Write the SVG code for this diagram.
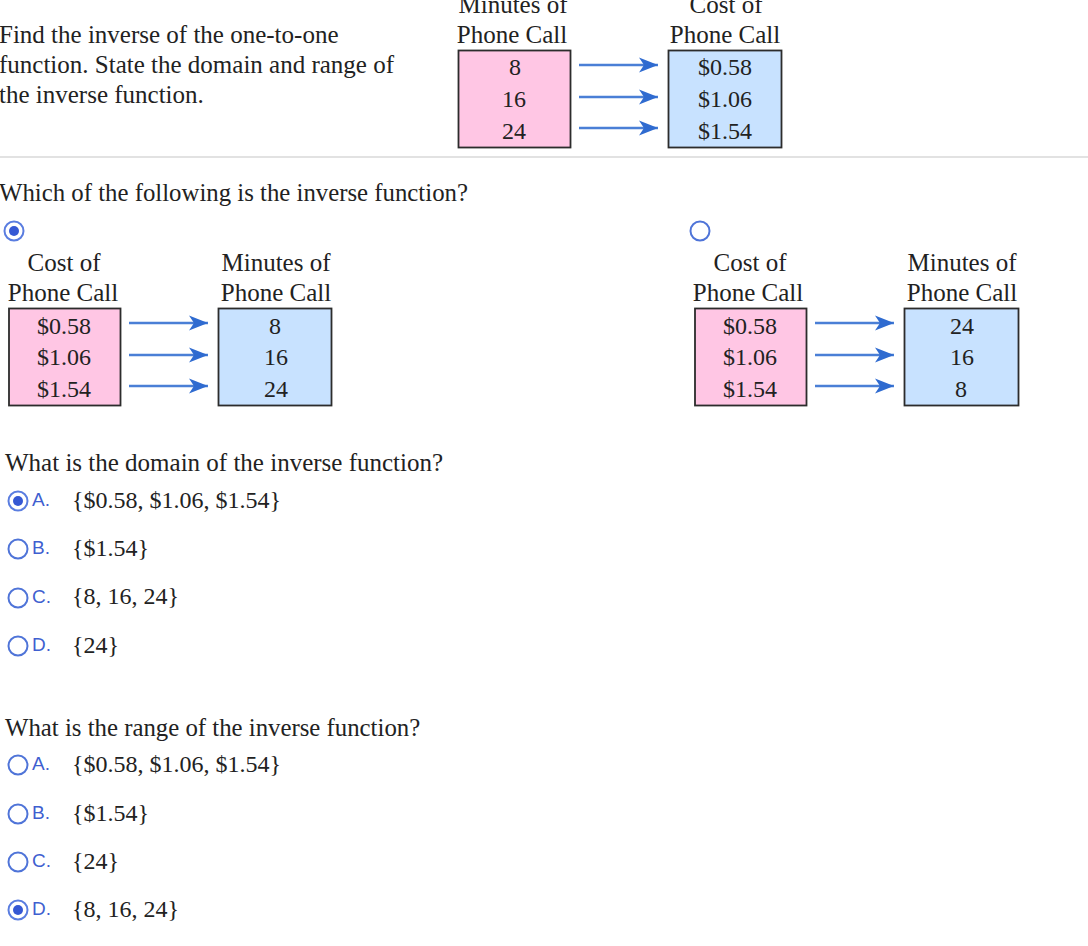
<svg xmlns="http://www.w3.org/2000/svg" width="1088" height="946" viewBox="0 0 1088 946">
<defs>
<marker id="ah" markerUnits="userSpaceOnUse" markerWidth="20" markerHeight="16" refX="19" refY="8" orient="auto"><path d="M0 0.500 L19 8 L0 15.500 L5 8 Z" fill="#2f6bd0"/></marker>
<g id="dot"><circle r="9.500" fill="#fff" stroke="#5a7de0" stroke-width="2"/><circle r="5" fill="#3558d4"/></g>
<g id="ring"><circle r="9.500" fill="#fff" stroke="#4f74d8" stroke-width="2"/></g>
</defs>
<style>
text{font-family:"Liberation Serif","Times New Roman",serif;font-size:25px;fill:#222}
.m{text-anchor:middle}
.v{font-size:24px}
.s{font-size:24px}
.n{font-size:24.800px}
.l{font-family:"Liberation Sans",Arial,sans-serif;font-size:19px;fill:#3f5fd0}
.p{fill:#ffc6e4;stroke:#2c2c2c;stroke-width:1.800}
.b{fill:#c8e2ff;stroke:#2c2c2c;stroke-width:1.800}
.c{stroke:#4a7fd6;stroke-width:2.400;fill:none;marker-end:url(#ah)}
</style>
<rect width="1088" height="946" fill="#fff"/>
<text x="-1" y="42.500">Find the inverse of the one-to-one</text>
<text x="-1" y="72.500">function. State the domain and range of</text>
<text x="-1" y="102.500">the inverse function.</text>
<rect x="0" y="156" width="1088" height="2" fill="#e2e2e2"/>
<text class="n" x="-1" y="200.500">Which of the following is the inverse function?</text>
<g id="top-left"><text class="m" x="513" y="12.500">Minutes of</text><text class="m" x="512" y="42.500">Phone Call</text><rect class="p" x="458.500" y="50.500" width="112" height="97"/><text class="m v" x="515" y="75">8</text><text class="m v" x="514" y="107">16</text><text class="m v" x="514" y="139">24</text></g>
<g id="top-right"><text class="m" x="726" y="12.500">Cost of</text><text class="m" x="725" y="42.500">Phone Call</text><rect class="b" x="668.500" y="50.500" width="113" height="97"/><text class="m v" x="725" y="75">$0.58</text><text class="m v" x="725" y="107">$1.06</text><text class="m v" x="725" y="139">$1.54</text></g>
<g id="choice-a-left"><text class="m" x="64" y="270.500">Cost of</text><text class="m" x="63" y="300.500">Phone Call</text><rect class="p" x="9" y="308.500" width="111.500" height="97"/><text class="m v" x="64" y="334">$0.58</text><text class="m v" x="64" y="365">$1.06</text><text class="m v" x="64" y="397">$1.54</text></g>
<g id="choice-a-right"><text class="m" x="276" y="270.500">Minutes of</text><text class="m" x="276" y="300.500">Phone Call</text><rect class="b" x="218.500" y="308.500" width="113" height="97"/><text class="m v" x="275" y="334">8</text><text class="m v" x="276" y="365">16</text><text class="m v" x="276" y="397">24</text></g>
<g id="choice-b-left"><text class="m" x="750" y="270.500">Cost of</text><text class="m" x="748" y="300.500">Phone Call</text><rect class="p" x="695" y="308.500" width="111.500" height="97"/><text class="m v" x="750" y="334">$0.58</text><text class="m v" x="750" y="365">$1.06</text><text class="m v" x="750" y="397">$1.54</text></g>
<g id="choice-b-right"><text class="m" x="962" y="270.500">Minutes of</text><text class="m" x="962" y="300.500">Phone Call</text><rect class="b" x="904.500" y="308.500" width="114" height="97"/><text class="m v" x="962" y="334">24</text><text class="m v" x="962" y="365">16</text><text class="m v" x="961" y="397">8</text></g>
<g id="connectors">
<line class="c" x1="579" y1="65" x2="658" y2="65"/><line class="c" x1="579" y1="97" x2="658" y2="97"/><line class="c" x1="579" y1="128" x2="658" y2="128"/>
<line class="c" x1="129" y1="323" x2="208" y2="323"/><line class="c" x1="129" y1="355" x2="208" y2="355"/><line class="c" x1="129" y1="386" x2="208" y2="386"/>
<line class="c" x1="815" y1="323" x2="894" y2="323"/><line class="c" x1="815" y1="355" x2="894" y2="355"/><line class="c" x1="815" y1="386" x2="894" y2="386"/>
</g>
<use href="#dot" x="14" y="231"/><use href="#ring" x="700" y="231"/>
<text x="5" y="470.500">What is the domain of the inverse function?</text>
<use href="#dot" x="18" y="501"/><text class="l" x="32" y="506">A.</text><text class="s" x="72" y="508">{$0.58, $1.06, $1.54}</text>
<use href="#ring" x="18" y="549"/><text class="l" x="32" y="554">B.</text><text class="s" x="72" y="556">{$1.54}</text>
<use href="#ring" x="18" y="598"/><text class="l" x="32" y="603">C.</text><text class="s" x="72" y="604">{8, 16, 24}</text>
<use href="#ring" x="18" y="646"/><text class="l" x="32" y="651">D.</text><text class="s" x="72" y="653">{24}</text>
<text class="n" x="5" y="735.500">What is the range of the inverse function?</text>
<use href="#ring" x="18" y="765"/><text class="l" x="32" y="770">A.</text><text class="s" x="72" y="772">{$0.58, $1.06, $1.54}</text>
<use href="#ring" x="18" y="814"/><text class="l" x="32" y="819">B.</text><text class="s" x="72" y="821">{$1.54}</text>
<use href="#ring" x="18" y="862"/><text class="l" x="32" y="867">C.</text><text class="s" x="72" y="869">{24}</text>
<use href="#dot" x="18" y="910"/><text class="l" x="32" y="915">D.</text><text class="s" x="72" y="917">{8, 16, 24}</text>
</svg>
